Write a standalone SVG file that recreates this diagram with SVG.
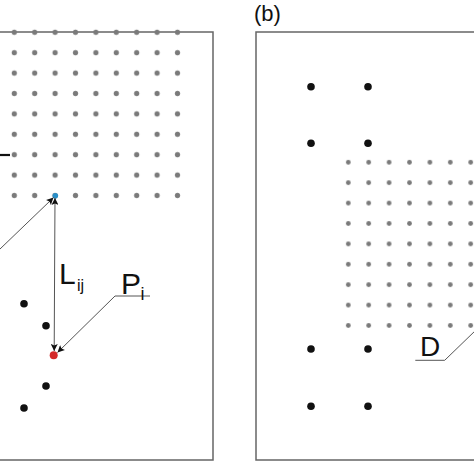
<svg xmlns="http://www.w3.org/2000/svg" width="474" height="474" viewBox="0 0 474 474">
<defs>
<style>
.frame{fill:none;stroke:#666;stroke-width:1.5}
.k{fill:#111}
.lead{fill:none;stroke:#555;stroke-width:1}
.lbl{font-family:"Liberation Sans",Arial,sans-serif;fill:#111}
</style>
<marker id="ah" viewBox="0 0 10 10" refX="10" refY="5" markerWidth="11" markerHeight="7" markerUnits="userSpaceOnUse" orient="auto">
<path d="M0,0 L10,5 L0,10 L2,5 Z" fill="#111"/>
</marker>
<pattern id="gridL" x="4.1" y="22.1" width="20.4" height="20.4" patternUnits="userSpaceOnUse">
<circle cx="10.2" cy="10.2" r="2.6" fill="#7a7a7a"/>
</pattern>
<pattern id="gridR" x="338.1" y="152.1" width="20.4" height="20.4" patternUnits="userSpaceOnUse">
<circle cx="10.2" cy="10.2" r="2.4" fill="#7a7a7a"/>
</pattern>
</defs>
<rect width="474" height="474" fill="#fff"/>
<g id="panel-a">
<path class="frame" d="M-2,32 H213 V460 H-2"/>
<rect x="4.1" y="22.1" width="183.6" height="183.6" fill="url(#gridL)"/>
<circle cx="55.3" cy="195.7" r="2.8" fill="#2a8fc8"/>
<line x1="0" y1="155" x2="10" y2="155" stroke="#111" stroke-width="2.2"/>
<g id="black-dots-a" class="k">
<circle cx="24" cy="303.7" r="3.8"/>
<circle cx="46" cy="325.7" r="3.8"/>
<circle cx="46" cy="386" r="3.8"/>
<circle cx="24" cy="408" r="3.8"/>
</g>
<circle id="Pi-dot" cx="53.7" cy="355.3" r="4" fill="#d42a2a"/>
</g>
<g id="connectors">
<line class="lead" x1="0" y1="249" x2="53.5" y2="197.6" marker-end="url(#ah)"/>
<line class="lead" x1="54.6" y1="270" x2="55" y2="198" marker-end="url(#ah)"/>
<line class="lead" x1="54.6" y1="270" x2="54.2" y2="351" marker-end="url(#ah)"/>
<polyline class="lead" points="150,296 115,296 57.5,352.5" marker-end="url(#ah)"/>
<polyline class="lead" points="415.3,360.3 444.7,360.3 476,330"/>
</g>
<g id="labels">
<text class="lbl" x="59" y="283.5" font-size="30">L</text>
<text class="lbl" x="77" y="291" font-size="16">ij</text>
<text class="lbl" x="121" y="293.7" font-size="30">P</text>
<text class="lbl" x="140.5" y="300" font-size="18">i</text>
<text class="lbl" x="420" y="356" font-size="28">D</text>
<text class="lbl" x="254" y="20.5" font-size="22">(b)</text>
</g>
<g id="panel-b">
<path class="frame" d="M476,32 H256 V460 H476"/>
<rect x="338.1" y="152.1" width="142.8" height="183.6" fill="url(#gridR)"/>
<g id="black-dots-b" class="k">
<circle cx="311" cy="86.7" r="3.8"/>
<circle cx="368" cy="86.7" r="3.8"/>
<circle cx="311" cy="143.3" r="3.8"/>
<circle cx="368" cy="143.3" r="3.8"/>
<circle cx="311" cy="349" r="3.8"/>
<circle cx="368" cy="349" r="3.8"/>
<circle cx="311" cy="406.3" r="3.8"/>
<circle cx="368" cy="406.3" r="3.8"/>
</g>
</g>
</svg>
